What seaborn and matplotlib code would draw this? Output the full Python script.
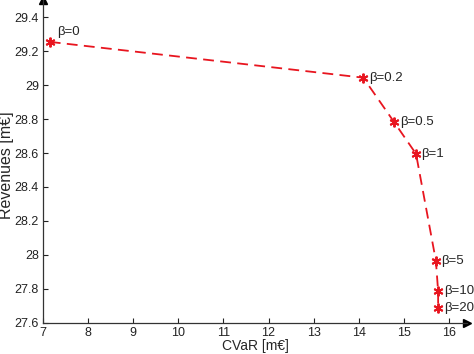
import numpy as np
import pandas as pd
import seaborn as sns
import matplotlib.pyplot as plt

# values
cvar = [7.15, 14.10, 14.79, 15.27, 15.71, 15.76, 15.76]
revenues = [29.255, 29.044, 28.78, 28.595, 27.965, 27.785, 27.685]
labels = ['β=0', 'β=0.2', 'β=0.5', 'β=1', 'β=5', 'β=10', 'β=20']
xticks = [7, 8, 9, 10, 11, 12, 13, 14, 15, 16]
yticks = [27.6, 27.8, 28, 28.2, 28.4, 28.6, 28.8, 29, 29.2, 29.4]

df = pd.DataFrame({'CVaR': cvar, 'Revenues': revenues, 'beta': labels})

sns.set_style('white')
plt.rcParams['font.family'] = ['Liberation Sans', 'DejaVu Sans']

fig = plt.figure(figsize=(4.74, 3.54), dpi=100)
ax = fig.add_axes([43 / 474, 1 - 322.7 / 354, 424 / 474, 322.4 / 354])

red = '#e8151f'
# estimator=None so the two points at the same CVaR are not averaged
sns.lineplot(data=df, x='CVaR', y='Revenues', ax=ax, sort=False, estimator=None,
             color=red, linewidth=1.3, dashes=False, linestyle=(0, (6, 3.5)),
             marker=(6, 2, 0), markersize=7, markeredgecolor=red,
             markeredgewidth=1.4)

for i, (x, y, t) in enumerate(zip(cvar, revenues, labels)):
    if i == 0:
        ax.annotate(t, (x, y), xytext=(5, 7), textcoords='offset points',
                    fontsize=9.5, va='center', ha='left')
    else:
        ax.annotate(t, (x, y), xytext=(4, 0), textcoords='offset points',
                    fontsize=9.5, va='center', ha='left', annotation_clip=False)

ax.set_xlim(7, 16.4)
ax.set_ylim(27.6, 29.5)
ax.set_xticks(xticks)
ax.set_yticks(yticks)
ax.set_xticklabels([str(v) for v in xticks])
ax.set_yticklabels(['27.6', '27.8', '28', '28.2', '28.4', '28.6', '28.8', '29', '29.2', '29.4'])
ax.tick_params(direction='in', length=3.5, width=0.8, labelsize=9, colors='#222222',
               left=True, bottom=True, pad=3)
ax.set_xlabel('CVaR [m€]', fontsize=10, labelpad=0)
ax.set_ylabel('Revenues [m€]', fontsize=11.5)
ax.yaxis.set_label_coords(-0.068, 0.49)

for s in ['top', 'right']:
    ax.spines[s].set_visible(False)
for s in ['left', 'bottom']:
    ax.spines[s].set_color('#333333')
    ax.spines[s].set_linewidth(0.9)

# arrow heads on the axes
ax.plot(1, 0, '>', color='black', markersize=6, transform=ax.transAxes, clip_on=False)
ax.plot(0, 1, '^', color='black', markersize=6, transform=ax.transAxes, clip_on=False)

fig.savefig('out.png', dpi=100)
